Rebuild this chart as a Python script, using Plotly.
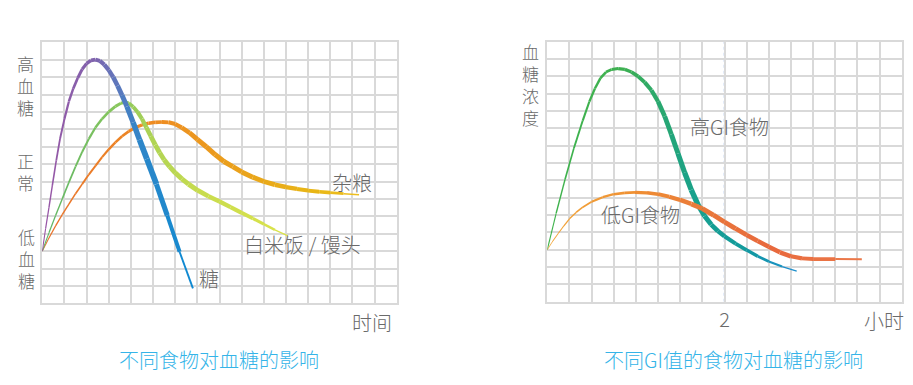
import plotly.graph_objects as go

# ---------------- data ----------------
# Left panel: x in grid columns (time), y in grid rows (blood sugar level)
SUGAR_X = [0, 0.15, 0.3, 0.45, 0.63, 0.8, 1.0, 1.2, 1.4, 1.6, 1.8, 2.0, 2.2, 2.4, 2.6, 2.8, 3.0, 3.2,
           3.4, 3.6, 3.82, 4.1, 4.39, 4.72, 5.15, 5.64, 6.2, 6.8]
SUGAR_Y = [3.0, 4.3, 5.5, 6.75, 8.2, 9.45, 10.6, 11.6, 12.35, 12.95, 13.45, 13.78, 13.96, 14.0, 13.93, 13.72,
           13.4, 13.0, 12.5, 11.95, 11.31, 10.4, 9.4, 8.3, 6.85, 5.05, 2.95, 0.86]

RICE_X = [0, 0.3, 0.6, 0.9, 1.2, 1.5, 1.8, 2.1, 2.4, 2.7, 3.0, 3.3, 3.55, 3.72, 3.9, 4.1, 4.3, 4.5, 4.7,
          4.9, 5.1, 5.3, 5.5, 5.75, 6.0, 6.3, 6.6, 7.0, 7.5, 8.0, 8.5, 9.0, 9.5, 10.0, 10.5, 11.09]
RICE_Y = [3.0, 4.05, 5.05, 6.0, 6.95, 7.85, 8.7, 9.45, 10.1, 10.6, 11.0, 11.32, 11.5, 11.56, 11.5, 11.3,
          11.0, 10.6, 10.1, 9.6, 9.1, 8.65, 8.25, 7.85, 7.5, 7.15, 6.85, 6.5, 6.15, 5.85, 5.53, 5.2, 4.88,
          4.55, 4.22, 3.88]

GRAIN_X = [0, 0.3, 0.6, 0.9, 1.2, 1.5, 1.8, 2.1, 2.4, 2.7, 3.0, 3.3, 3.6, 3.9, 4.2, 4.5, 4.8, 5.1, 5.4,
           5.7, 6.0, 6.3, 6.65, 7.0, 7.4, 7.8, 8.2, 8.6, 9.0, 9.5, 10.0, 10.5, 11.0, 11.5, 12.0, 12.5,
           13.0, 13.6, 14.3]
GRAIN_Y = [3.0, 3.75, 4.45, 5.1, 5.7, 6.3, 6.85, 7.4, 7.9, 8.4, 8.85, 9.25, 9.6, 9.88, 10.1, 10.25, 10.35,
           10.4, 10.42, 10.4, 10.3, 10.1, 9.8, 9.42, 9.0, 8.55, 8.15, 7.85, 7.55, 7.25, 7.0, 6.82, 6.68,
           6.57, 6.48, 6.41, 6.36, 6.3, 6.24]

NORMAL_LOW = 5
NORMAL_HIGH = 10

# Right panel: x in hours, y in grid rows (blood sugar concentration)
HIGH_GI_X = [0, 0.1, 0.2, 0.3, 0.4, 0.475, 0.5375, 0.6, 0.6625, 0.725, 0.8, 0.875, 0.95, 1.025, 1.1,
             1.175, 1.25, 1.325, 1.4, 1.475, 1.55, 1.625, 1.7, 1.775, 1.85, 1.925, 2.0, 2.125, 2.25,
             2.375, 2.5, 2.65, 2.815]
HIGH_GI_Y = [3.0, 5.1, 7.05, 8.85, 10.45, 11.55, 12.3, 12.9, 13.25, 13.4, 13.45, 13.4, 13.25, 13.0, 12.65,
             12.2, 11.55, 10.7, 9.65, 8.55, 7.45, 6.45, 5.6, 4.95, 4.45, 4.08, 3.78, 3.35, 2.98, 2.62,
             2.32, 2.03, 1.77]

LOW_GI_X = [0, 0.0625, 0.125, 0.1875, 0.25, 0.325, 0.4, 0.5, 0.625, 0.75, 0.875, 0.99, 1.125, 1.25,
            1.375, 1.5, 1.625, 1.75, 1.875, 2.0, 2.125, 2.25, 2.375, 2.5, 2.625, 2.75, 2.875, 3.0,
            3.25, 3.55]
LOW_GI_Y = [3.0, 3.5, 3.95, 4.38, 4.78, 5.15, 5.45, 5.77, 6.03, 6.2, 6.28, 6.31, 6.28, 6.2, 6.06, 5.87,
            5.64, 5.37, 5.0, 4.6, 4.22, 3.85, 3.5, 3.17, 2.85, 2.62, 2.5, 2.46, 2.46, 2.45]

HOUR_TICKS = [2]
HOUR_TICK_TEXT = ["2"]

# ---------------- styles ----------------
GRID = "#d9d9d9"
TXT = "#6a6a6a"
TITLE = "#35b4e8"
FONT = "Noto Sans CJK SC"

STYLES = {
    "sugar": dict(colors=[(0, "#9a55a5"), (0.35, "#7f63ad"), (0.5, "#5c78bd"), (0.65, "#2f86c8"), (1, "#0c8ad2")],
                  widths=[(0, 1.0), (0.2, 2.5), (0.35, 3.8), (0.55, 5.0), (0.7, 6.0), (0.85, 4.5), (1, 0.8)]),
    "rice": dict(colors=[(0, "#5bb466"), (0.33, "#8cc85c"), (0.45, "#b0d454"), (0.65, "#c8dc4e"), (1, "#dce44a")],
                 widths=[(0, 1.0), (0.2, 2.2), (0.33, 3.2), (0.45, 4.8), (0.6, 5.0), (0.85, 3.8), (1, 0.8)]),
    "grain": dict(colors=[(0, "#e8702c"), (0.36, "#ee8c22"), (0.6, "#eaa01c"), (0.85, "#e8b616"), (1, "#eec020")],
                  widths=[(0, 1.0), (0.2, 2.2), (0.36, 3.6), (0.5, 5.0), (0.7, 5.0), (0.9, 3.5), (1, 0.8)]),
    "high": dict(colors=[(0, "#3fb34c"), (0.3, "#3db050"), (0.45, "#2aa86e"), (0.6, "#17a08e"), (0.8, "#129a9e"), (1, "#1c8cd4")],
                 widths=[(0, 1.0), (0.28, 3.0), (0.45, 4.5), (0.58, 5.5), (0.75, 4.0), (0.9, 2.5), (1, 0.8)]),
    "low": dict(colors=[(0, "#f2a83c"), (0.28, "#ef8f32"), (0.5, "#e9783a"), (0.7, "#e8683c"), (1, "#ec7a4a")],
                widths=[(0, 0.8), (0.28, 3.0), (0.5, 5.0), (0.75, 4.5), (0.9, 3.5), (1, 0.8)]),
}


def hex2rgb(h):
    h = h.lstrip("#")
    return [int(h[i:i + 2], 16) for i in (0, 2, 4)]


def interp_stops(stops, f, is_color):
    for (f0, v0), (f1, v1) in zip(stops[:-1], stops[1:]):
        if f0 <= f <= f1:
            t = 0 if f1 == f0 else (f - f0) / (f1 - f0)
            if is_color:
                a, b = hex2rgb(v0), hex2rgb(v1)
                c = [round(a[k] + (b[k] - a[k]) * t) for k in range(3)]
                return "rgb(%d,%d,%d)" % tuple(c)
            return v0 + (v1 - v0) * t
    return stops[-1][1]


fig = go.Figure()


def add_curve(xs, ys, style, xa, ya):
    xmin, xmax = xs[0], xs[-1]
    for i in range(len(xs) - 1):
        f = ((xs[i] + xs[i + 1]) / 2 - xmin) / (xmax - xmin)
        fig.add_trace(go.Scatter(
            x=xs[i:i + 2], y=ys[i:i + 2], mode="lines",
            line=dict(color=interp_stops(style["colors"], f, True),
                      width=interp_stops(style["widths"], f, False)),
            xaxis=xa, yaxis=ya, hoverinfo="skip", showlegend=False))


add_curve(GRAIN_X, GRAIN_Y, STYLES["grain"], "x", "y")
add_curve(RICE_X, RICE_Y, STYLES["rice"], "x", "y")
add_curve(SUGAR_X, SUGAR_Y, STYLES["sugar"], "x", "y")
add_curve(HIGH_GI_X, HIGH_GI_Y, STYLES["high"], "x2", "y2")
add_curve(LOW_GI_X, LOW_GI_Y, STYLES["low"], "x2", "y2")

W, H = 913, 385


def px(x):
    return x / W


def py(y):
    return (H - y) / H


axis_common = dict(showgrid=True, gridcolor=GRID, gridwidth=1.5, zeroline=False,
                   showline=True, linecolor=GRID, linewidth=1.5, mirror=True,
                   ticks="", showticklabels=False, fixedrange=True)

fig.update_layout(
    width=W, height=H,
    margin=dict(l=0, r=0, t=0, b=0),
    paper_bgcolor="white", plot_bgcolor="white",
    showlegend=False,
    font=dict(family=FONT, color=TXT),
    xaxis=dict(domain=[px(42.3), px(396.7)], range=[0, 16], dtick=1, tick0=0, anchor="y", **axis_common),
    yaxis=dict(domain=[py(303.3), py(42.3)], range=[0, 15], dtick=1, tick0=0, anchor="x", **axis_common),
    xaxis2=dict(domain=[px(547.3), px(901.7)], range=[0, 4], anchor="y2",
                tickvals=HOUR_TICKS, ticktext=HOUR_TICK_TEXT,
                showgrid=False, zeroline=False, showline=True, linecolor=GRID, linewidth=1.5, mirror=True,
                ticks="", showticklabels=True, tickfont=dict(size=20, color=TXT, family=FONT, weight=300),
                minor=dict(dtick=0.25, tick0=0, showgrid=True, gridcolor=GRID, gridwidth=1.5),
                fixedrange=True),
    yaxis2=dict(domain=[py(301.7), py(41.7)], range=[0, 15], dtick=1, tick0=0, anchor="x2", **axis_common),
)

# reference lines
for yv in (NORMAL_LOW, NORMAL_HIGH):
    fig.add_shape(type="line", xref="x", yref="y", x0=0, x1=16, y0=yv, y1=yv,
                  line=dict(color="#7aa2cc", width=1.5, dash="dot"), layer="below")
fig.add_shape(type="line", xref="x2", yref="y2", x0=HOUR_TICKS[0], x1=HOUR_TICKS[0], y0=0, y1=15,
              line=dict(color="#4a80d4", width=1.3, dash="dot"), layer="below")


def ann(text, x, y, size=20, color=TXT, xanchor="center", yanchor="middle"):
    fig.add_annotation(text=text, x=px(x), y=py(y), xref="paper", yref="paper",
                       showarrow=False, xanchor=xanchor, yanchor=yanchor,
                       font=dict(size=size, color=color, family=FONT, weight=300))


ann("高<br>血<br>糖", 25, 86, size=17)
ann("正<br>常", 25, 171, size=17)
ann("低<br>血<br>糖", 26, 258, size=17)
ann("杂粮", 352, 182)
ann("白米饭 / 馒头", 302, 244)
ann("糖", 209, 278)
ann("时间", 372, 322)
ann("血<br>糖<br>浓<br>度", 530, 85, size=17)
ann("高GI食物", 729, 126)
ann("低GI食物", 640, 214)
ann("小时", 884, 320)
ann("不同食物对血糖的影响", 219, 359, size=20, color=TITLE)
ann("不同GI值的食物对血糖的影响", 733, 359, size=20, color=TITLE)

fig.write_html("out.html")
